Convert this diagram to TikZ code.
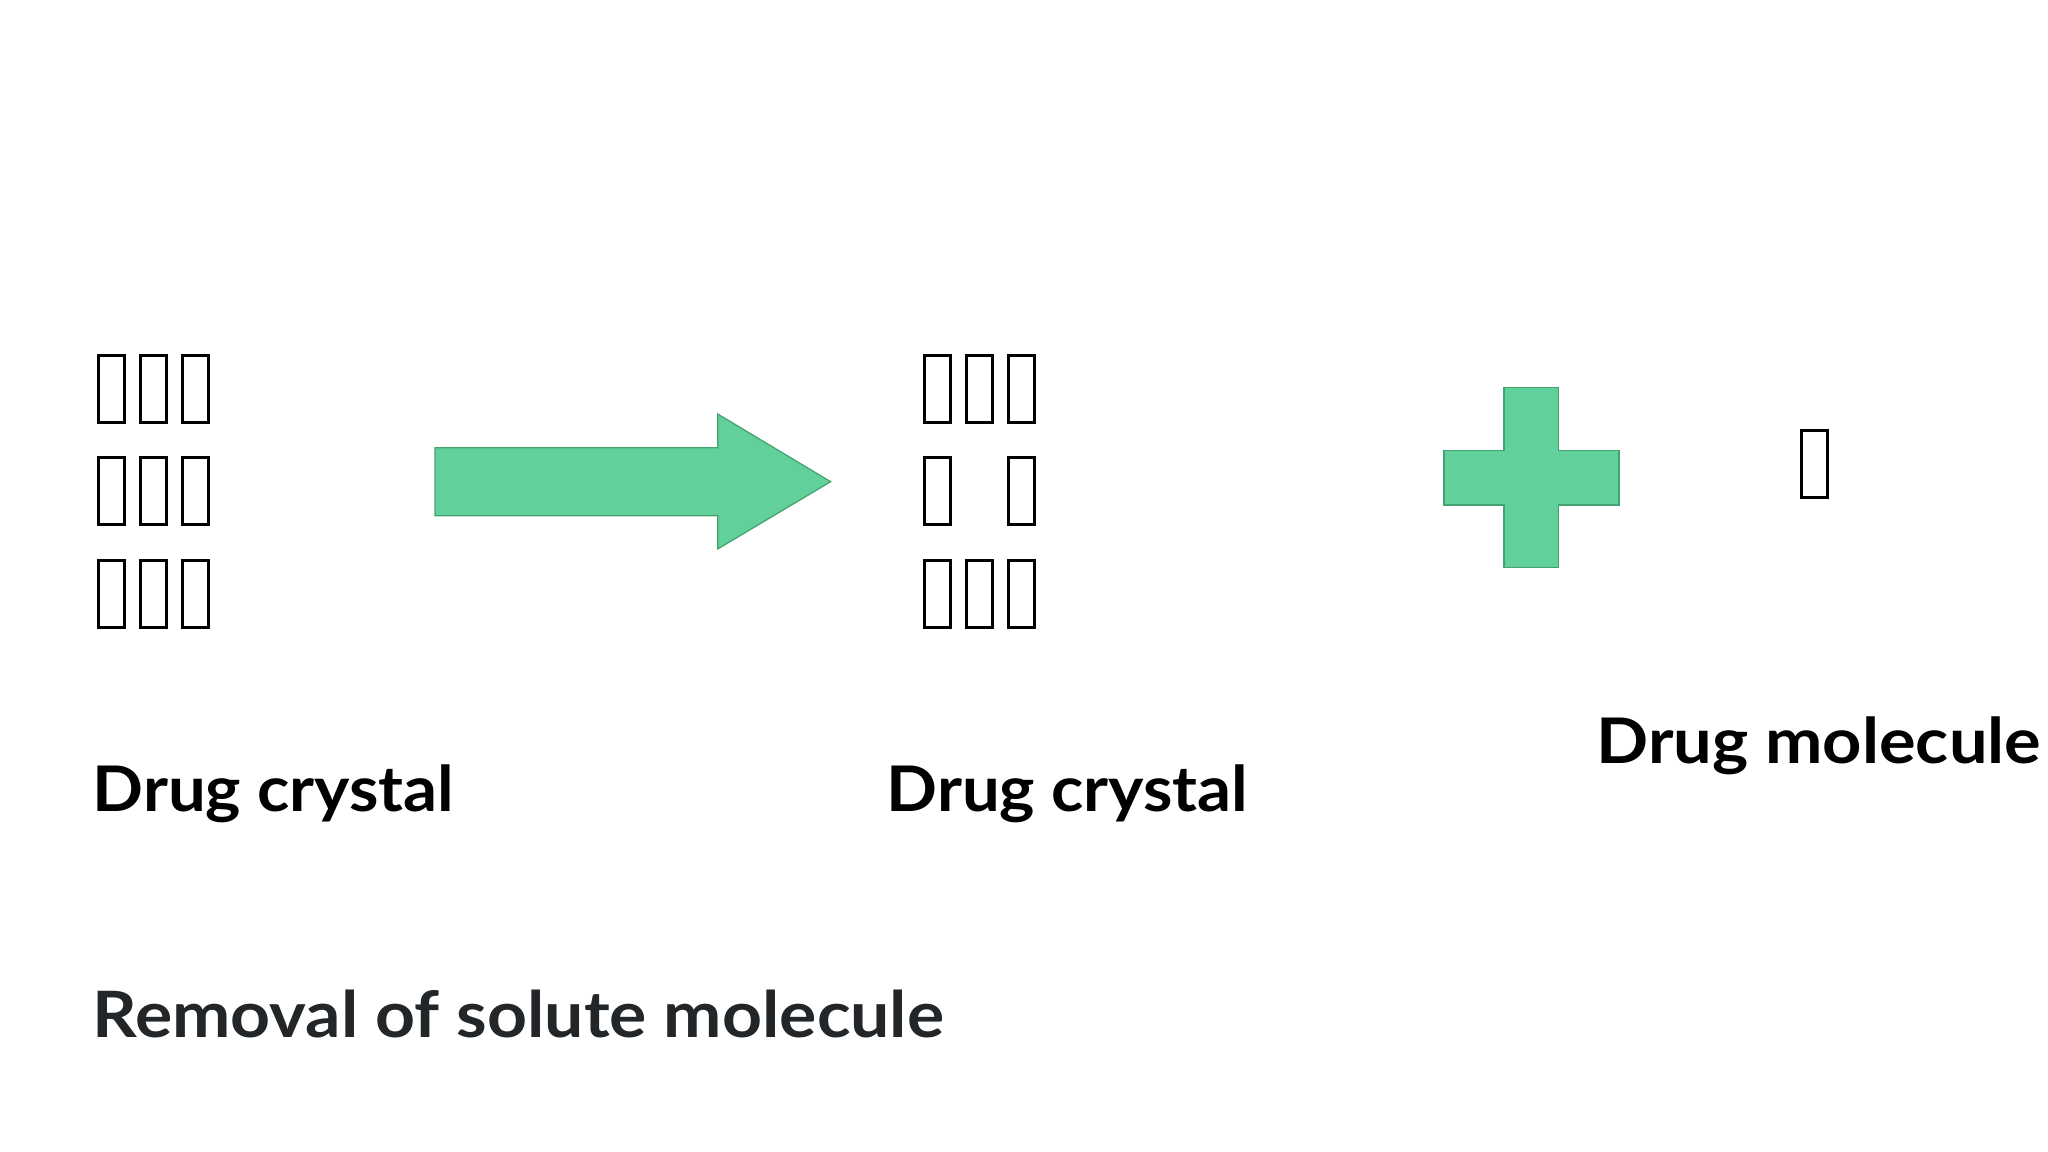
\documentclass[tikz,border=0pt]{standalone}
\usepackage{fontspec}
\setmainfont{Lato}
\newfontfamily\capfont{Lato}[FakeStretch=1.065]
\newfontfamily\widefont{Lato}[FakeStretch=1.09]
\usetikzlibrary{positioning}
\definecolor{fillGreen}{HTML}{62D09A}
\definecolor{borderGreen}{HTML}{43A36F}
\definecolor{textMain}{HTML}{000000}
\definecolor{textDark}{HTML}{222629}
\tikzset{
  molbox/.style={draw=black, line width=0.85pt, rectangle, inner sep=0pt,
    minimum width=0.26cm, minimum height=0.67cm},
  greenshape/.style={fill=fillGreen, draw=borderGreen, line width=0.35pt},
  caption/.style={anchor=base west, inner sep=0pt, font=\capfont\fontsize{17.9}{20}\selectfont\bfseries, text=textMain},
  widecaption/.style={caption, font=\widefont\fontsize{17.9}{20}\selectfont\bfseries},
  title/.style={anchor=base west, inner sep=0pt, font=\widefont\fontsize{18.2}{20}\selectfont\bfseries, text=textDark},
}
\begin{document}
\begin{tikzpicture}
  \useasboundingbox (0,0) rectangle (20.48,-11.52);

  % === Left: drug crystal (3x3) ===
  \foreach \r in {1,2,3}
    \foreach \c in {1,2,3}
      \node[molbox] (left-\r-\c) at ({1.112+0.42*(\c-1)}, {-3.89-1.023*(\r-1)}) {};

  % === Middle: drug crystal with one molecule gone ===
  \foreach \r/\c in {1/1,1/2,1/3,2/1,2/3,3/1,3/2,3/3}
    \node[molbox] (right-\r-\c) at ({9.378+0.42*(\c-1)}, {-3.89-1.023*(\r-1)}) {};

  % === Far right: single drug molecule ===
  \node[molbox] (single) at (18.147,-4.638) {};

  % Block arrow
  \draw[greenshape] (4.35,-4.477) -- (7.177,-4.477) -- (7.177,-4.14) -- (8.307,-4.817)
    -- (7.177,-5.49) -- (7.177,-5.157) -- (4.35,-5.157) -- cycle;

  % Plus sign
  \draw[greenshape] (15.04,-3.877) -- (15.587,-3.877) -- (15.587,-4.507) -- (16.19,-4.507)
    -- (16.19,-5.05) -- (15.587,-5.05) -- (15.587,-5.673) -- (15.04,-5.673)
    -- (15.04,-5.05) -- (14.44,-5.05) -- (14.44,-4.507) -- (15.04,-4.507) -- cycle;

  % === Labels ===
  \node[caption] (lblLeft) at (0.92,-8.117) {Drug crystal};
  \node[caption] (lblMid) at (8.86,-8.117) {Drug crystal};
  \node[widecaption] (lblMol) at (15.96,-7.633) {Drug molecule};
  \node[title] (lblTitle) at (0.92,-10.373) {Removal of solute molecule};

\end{tikzpicture}
\end{document}
